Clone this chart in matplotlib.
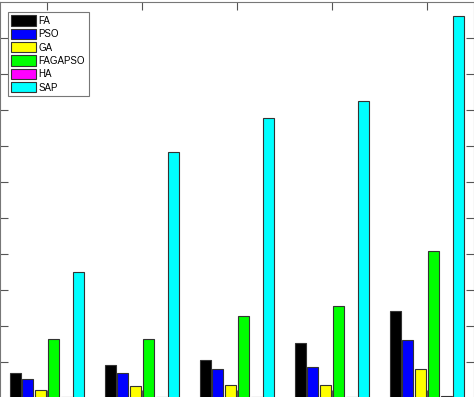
import numpy as np
import matplotlib.pyplot as plt

plt.rcParams['font.family'] = ['Liberation Sans', 'DejaVu Sans']

groups = [1, 2, 3, 4, 5]
series = ['FA', 'PSO', 'GA', 'FAGAPSO', 'HA', 'SAP']
colors = ['#000000', '#0000ff', '#ffff00', '#00ff00', '#ff00ff', '#00ffff']

fa = [0.69, 0.92, 1.06, 1.53, 2.42]
pso = [0.53, 0.69, 0.81, 0.86, 1.61]
ga = [0.22, 0.33, 0.36, 0.36, 0.81]
fagapso = [1.64, 1.64, 2.28, 2.56, 4.08]
ha = [0.03, 0.03, 0.03, 0.03, 0.05]
sap = [3.50, 6.83, 7.78, 8.25, 10.61]
values = [fa, pso, ga, fagapso, ha, sap]

fig = plt.figure(figsize=(4.74, 3.97), dpi=100)
ax = fig.add_axes([0, -0.003, 1, 396 / 397])

x = np.array(groups)
pitch = 0.134
width = 0.116
for i, (name, vals, c) in enumerate(zip(series, values, colors)):
    ax.bar(x + (i - 2.5) * pitch, vals, width, color=c, edgecolor='#333333',
           linewidth=0.8, label=name)

ax.set_xlim(0.505, 5.495)
ax.set_ylim(0, 396 / 36)
ax.set_xticks(groups)
ax.set_yticks(np.arange(1, 11))
ax.set_xticklabels([])
ax.set_yticklabels([])
ax.tick_params(direction='in', length=6, width=0.8, colors='#555555',
               top=True, right=True, bottom=True, left=True)
for s in ax.spines.values():
    s.set_color('#777777')
    s.set_linewidth(0.8)

leg = ax.legend(loc='upper left', bbox_to_anchor=(0.016, 0.975), fontsize=7,
                handlelength=2.6, handleheight=1.25, handletextpad=0.25,
                labelspacing=0.3, borderpad=0.35, borderaxespad=0,
                fancybox=False, framealpha=1)
leg.get_frame().set_edgecolor('#777777')
leg.get_frame().set_linewidth(0.8)

fig.savefig('out.png', dpi=100)
